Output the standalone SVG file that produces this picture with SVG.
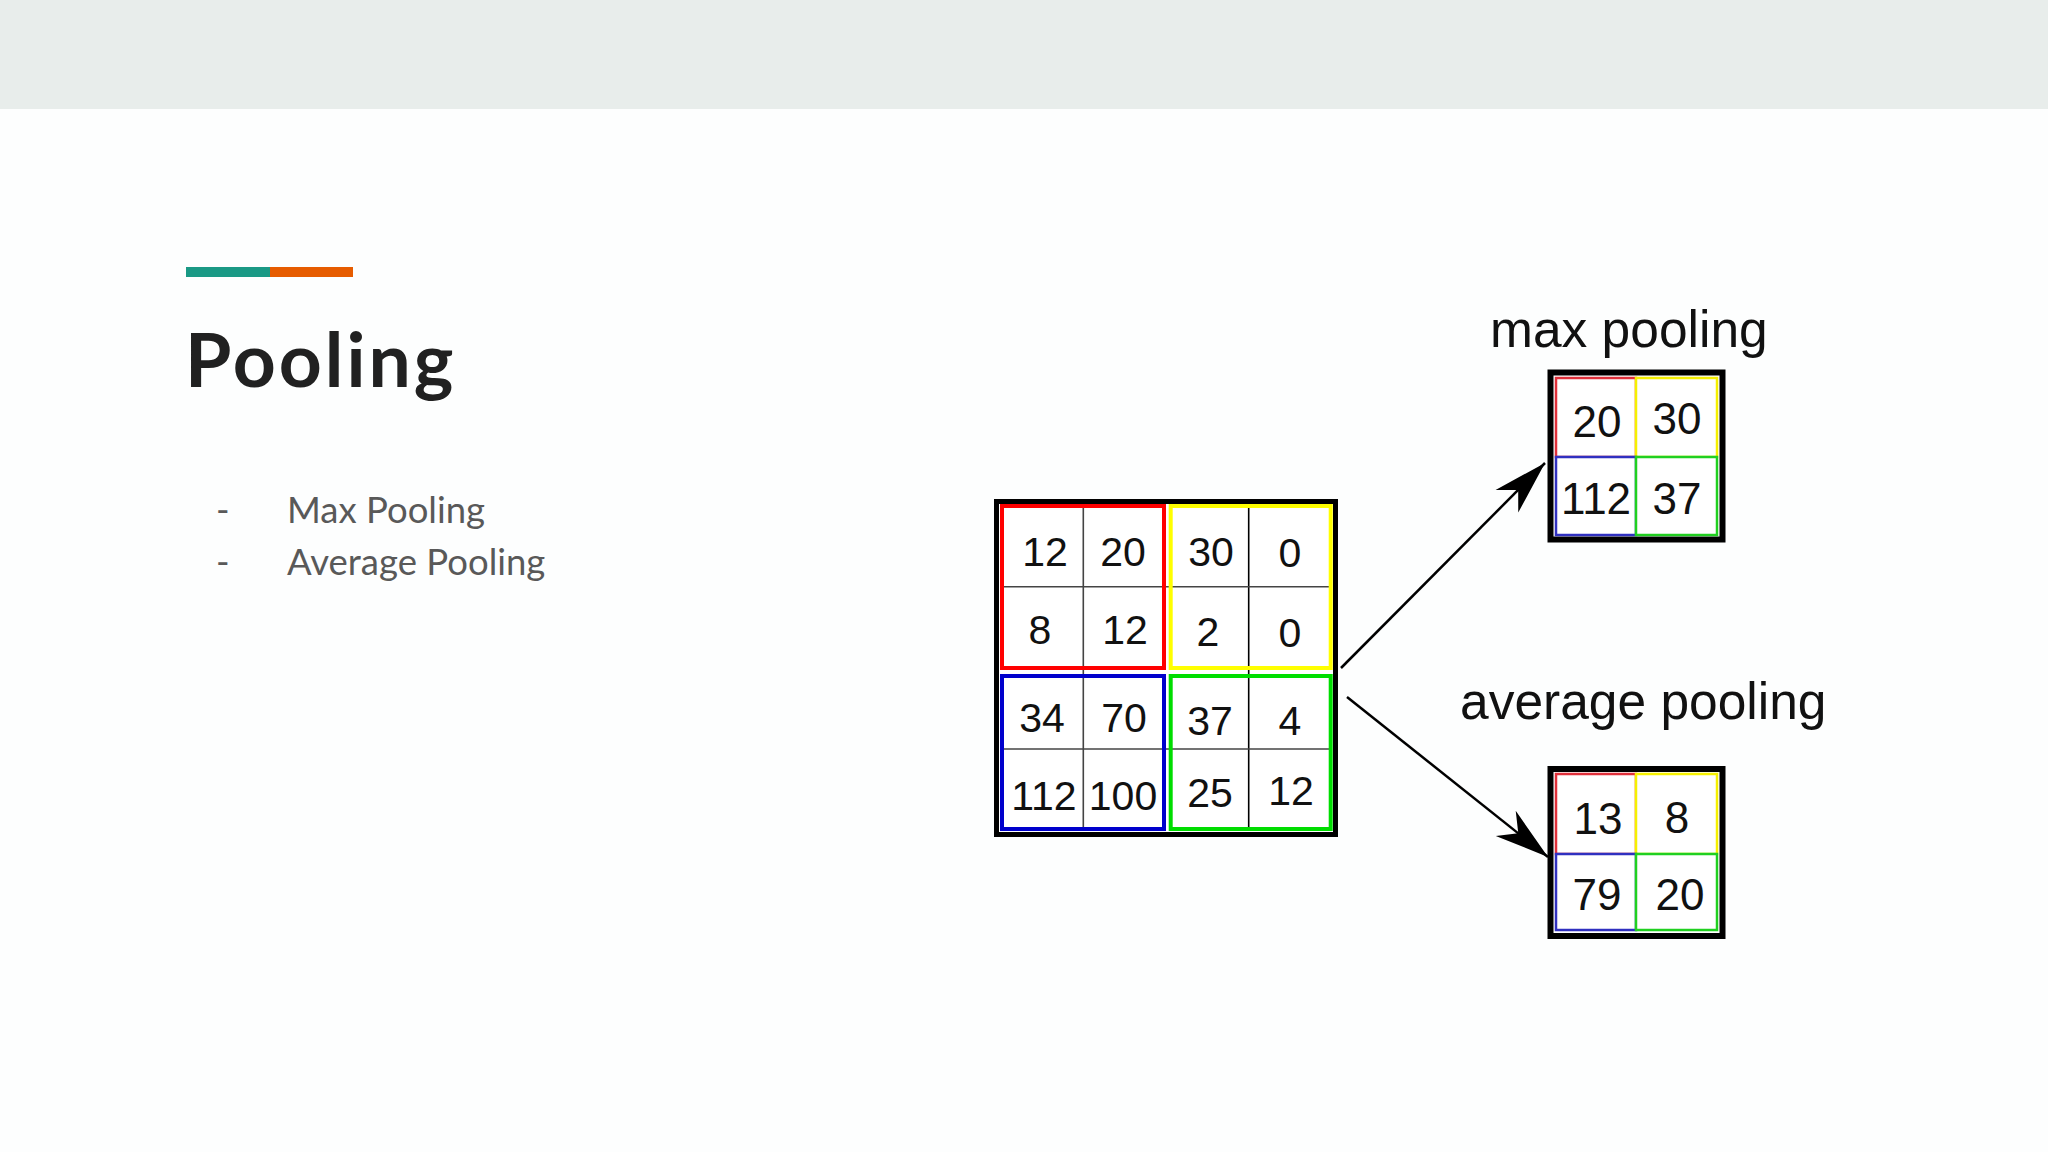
<svg xmlns="http://www.w3.org/2000/svg" width="2048" height="1152" viewBox="0 0 2048 1152">
  <style>
    .title { font-family: Lato, "Liberation Sans", sans-serif; font-weight: 700; font-size: 75px; letter-spacing: 3px; fill: #212121; }
    .bullet { font-family: Lato, "Liberation Sans", sans-serif; font-size: 36.5px; fill: #595959; }
    .num { font-family: "Liberation Sans", Arial, sans-serif; font-size: 41px; fill: #111; text-anchor: middle; }
    .snum { font-family: "Liberation Sans", Arial, sans-serif; font-size: 44px; fill: #111; text-anchor: middle; }
    .lbl { font-family: "Liberation Sans", Arial, sans-serif; font-size: 51.5px; fill: #111; }
    .outer { fill: #ffffff; stroke: #000; }
    .grid { stroke: #444; stroke-width: 1.6; }
    .conn { stroke: #000; stroke-width: 2.5; fill: none; }
  </style>
  <defs>
    <marker id="head" viewBox="-56 -20 60 40" markerWidth="60" markerHeight="40" refX="0" refY="0" orient="auto" markerUnits="userSpaceOnUse">
      <path d="M0,0 L-54,-16 L-38,0 L-54,16 Z" fill="#000"/>
    </marker>
  </defs>

  <rect x="0" y="0" width="2048" height="1152" fill="#fdfefe"/>
  <rect x="0" y="0" width="2048" height="109" fill="#e8edeb"/>

  <g id="title">
    <rect x="186" y="267" width="84" height="10" fill="#1a9985"/>
    <rect x="270" y="267" width="83" height="10" fill="#e65c00"/>
    <text class="title" x="185" y="387">Pooling</text>
  </g>

  <g id="bullets">
    <text class="bullet" x="216" y="523">-</text>
    <text class="bullet" x="287" y="523">Max Pooling</text>
    <text class="bullet" x="216" y="575">-</text>
    <text class="bullet" x="287" y="575">Average Pooling</text>
  </g>

  <g id="input-grid">
    <rect class="outer" x="996.5" y="501.5" width="339" height="333" stroke-width="5"/>
    <line class="grid" x1="1083.3" y1="508" x2="1083.3" y2="827" stroke="#777"/>
    <line class="grid" x1="1248.7" y1="508" x2="1248.7" y2="827" style="stroke:#000"/>
    <line class="grid" x1="1004" y1="586.7" x2="1329" y2="586.7"/>
    <line class="grid" x1="1004" y1="749" x2="1329" y2="749"/>
    <rect x="1002" y="506" width="162" height="162" fill="none" stroke="#ff0000" stroke-width="4"/>
    <rect x="1170.7" y="506" width="160" height="162" fill="none" stroke="#ffff00" stroke-width="4"/>
    <rect x="1002" y="676" width="162" height="153" fill="none" stroke="#0000cc" stroke-width="4"/>
    <rect x="1170.7" y="676" width="160" height="153" fill="none" stroke="#00dd00" stroke-width="4"/>
    <text class="num" x="1045" y="566">12</text>
    <text class="num" x="1123" y="566">20</text>
    <text class="num" x="1211" y="566">30</text>
    <text class="num" x="1290" y="567">0</text>
    <text class="num" x="1040" y="644">8</text>
    <text class="num" x="1125" y="644">12</text>
    <text class="num" x="1208" y="646">2</text>
    <text class="num" x="1290" y="647">0</text>
    <text class="num" x="1042" y="732">34</text>
    <text class="num" x="1124" y="732">70</text>
    <text class="num" x="1210" y="735">37</text>
    <text class="num" x="1290" y="735">4</text>
    <text class="num" x="1044" y="810">112</text>
    <text class="num" x="1123" y="810">100</text>
    <text class="num" x="1210" y="807">25</text>
    <text class="num" x="1291" y="805">12</text>
  </g>

  <g id="max-pooling">
    <text class="lbl" x="1490" y="347">max pooling</text>
    <rect class="outer" x="1550.5" y="372.5" width="172" height="167" stroke-width="6"/>
    <rect x="1556" y="378" width="80" height="79" fill="#fff" stroke="#e0303a" stroke-width="2.5"/>
    <rect x="1636" y="378" width="81" height="79" fill="#fff" stroke="#f5f000" stroke-width="2.5"/>
    <rect x="1556" y="457" width="80" height="78" fill="#fff" stroke="#3030c0" stroke-width="2.5"/>
    <rect x="1636" y="457" width="81" height="78" fill="#fff" stroke="#20d020" stroke-width="2.5"/>
    <text class="snum" x="1597" y="437">20</text>
    <text class="snum" x="1677" y="434">30</text>
    <text class="snum" x="1596" y="514">112</text>
    <text class="snum" x="1677" y="514">37</text>
  </g>

  <g id="average-pooling">
    <text class="lbl" x="1460" y="719">average pooling</text>
    <rect class="outer" x="1550.5" y="769" width="172" height="167" stroke-width="6"/>
    <rect x="1556" y="774" width="80" height="80" fill="#fff" stroke="#e0303a" stroke-width="2.5"/>
    <rect x="1636" y="774" width="81" height="80" fill="#fff" stroke="#f5f000" stroke-width="2.5"/>
    <rect x="1556" y="854" width="80" height="76" fill="#fff" stroke="#3030c0" stroke-width="2.5"/>
    <rect x="1636" y="854" width="81" height="76" fill="#fff" stroke="#20d020" stroke-width="2.5"/>
    <text class="snum" x="1598" y="834">13</text>
    <text class="snum" x="1677" y="833">8</text>
    <text class="snum" x="1597" y="910">79</text>
    <text class="snum" x="1680" y="910">20</text>
  </g>

  <g id="connectors">
    <line class="conn" x1="1341" y1="668" x2="1545" y2="463" marker-end="url(#head)"/>
    <line class="conn" x1="1347" y1="697" x2="1548" y2="857" marker-end="url(#head)"/>
  </g>
</svg>
